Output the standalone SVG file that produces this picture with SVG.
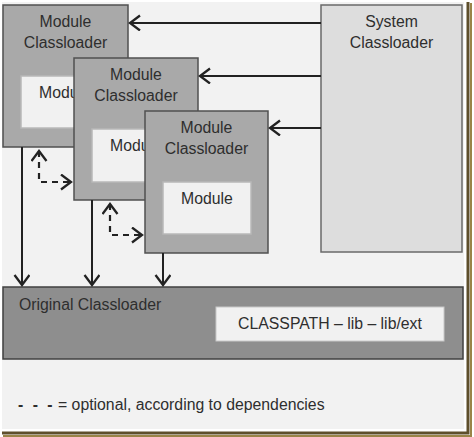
<svg xmlns="http://www.w3.org/2000/svg" width="474" height="437" viewBox="0 0 474 437">
<style>
text{font-family:"Liberation Sans",Arial,sans-serif;font-size:15.8px;fill:#2e2e2e;}
.mc{fill:#a9a9a9;stroke:#505050;stroke-width:1.5;}
.inner{fill:#f1f1f1;stroke:#b8b8b8;stroke-width:1.5;}
.c{text-anchor:middle;}
.ln{fill:none;stroke:#222;stroke-width:2;}
.dash{fill:none;stroke:#222;stroke-width:2.2;stroke-dasharray:6,5;}
</style>
<defs>
<marker id="ah" markerWidth="14" markerHeight="18" refX="11" refY="8" orient="auto-start-reverse" markerUnits="userSpaceOnUse">
<path d="M1,0.5 L11,8 L1,15.5" fill="none" stroke="#222" stroke-width="2.3" stroke-dasharray="none"/>
</marker>
</defs>
<rect x="0" y="0" width="474" height="437" fill="#ffffff"/>
<rect x="2" y="2" width="462" height="427" fill="#f2f2f2"/>
<path d="M468,2 V433 H2" fill="none" stroke="#5e4f2c" stroke-width="3"/>
<path d="M471,3 V436 H3" fill="none" stroke="#9a8448" stroke-width="2"/>

<g id="system-classloader">
<rect x="321" y="5" width="141" height="247" fill="#dddddd" stroke="#6a6a6a" stroke-width="1.5"/>
<text x="391.5" y="27" class="c">System</text>
<text x="391.5" y="48" class="c">Classloader</text>
</g>

<g id="module-classloader-1">
<rect x="3" y="5" width="125" height="142" class="mc"/>
<text x="65.5" y="27" class="c">Module</text>
<text x="65.5" y="48" class="c">Classloader</text>
<rect x="21" y="76" width="88" height="52" class="inner"/>
<text x="65" y="98" class="c">Module</text>
</g>

<g id="module-classloader-2">
<rect x="74" y="58" width="124" height="142" class="mc"/>
<text x="136" y="80" class="c">Module</text>
<text x="136" y="101" class="c">Classloader</text>
<rect x="92" y="129" width="88" height="53" class="inner"/>
<text x="136" y="151" class="c">Module</text>
</g>

<g id="module-classloader-3">
<rect x="145" y="111" width="123" height="142" class="mc"/>
<text x="206.5" y="133" class="c">Module</text>
<text x="206.5" y="154" class="c">Classloader</text>
<rect x="163" y="182" width="88" height="52" class="inner"/>
<text x="207" y="204" class="c">Module</text>
</g>

<g id="original-classloader">
<rect x="3" y="287" width="460" height="72" fill="#8e8e8e" stroke="#404040" stroke-width="1.5"/>
<text x="19" y="310">Original Classloader</text>
<rect x="216" y="307" width="228" height="34" fill="#f1f1f1" stroke="#c8c8c8" stroke-width="1"/>
<text x="330" y="329" class="c">CLASSPATH – lib – lib/ext</text>
</g>

<g id="connectors">
<line x1="321" y1="23" x2="130" y2="23" class="ln" marker-end="url(#ah)"/>
<line x1="321" y1="76" x2="200" y2="76" class="ln" marker-end="url(#ah)"/>
<line x1="321" y1="128" x2="270" y2="128" class="ln" marker-end="url(#ah)"/>
<line x1="22" y1="147" x2="22" y2="285" class="ln" marker-end="url(#ah)"/>
<line x1="92" y1="200" x2="92" y2="285" class="ln" marker-end="url(#ah)"/>
<line x1="163" y1="253" x2="163" y2="285" class="ln" marker-end="url(#ah)"/>
<path d="M39,151 V182 H71" class="dash" marker-start="url(#ah)" marker-end="url(#ah)"/>
<path d="M110,204 V235 H142" class="dash" marker-start="url(#ah)" marker-end="url(#ah)"/>
</g>

<g id="legend">
<text x="18" y="410" font-weight="bold" letter-spacing="2.5">- - -</text>
<text x="58" y="410">= optional, according to dependencies</text>
</g>
</svg>
